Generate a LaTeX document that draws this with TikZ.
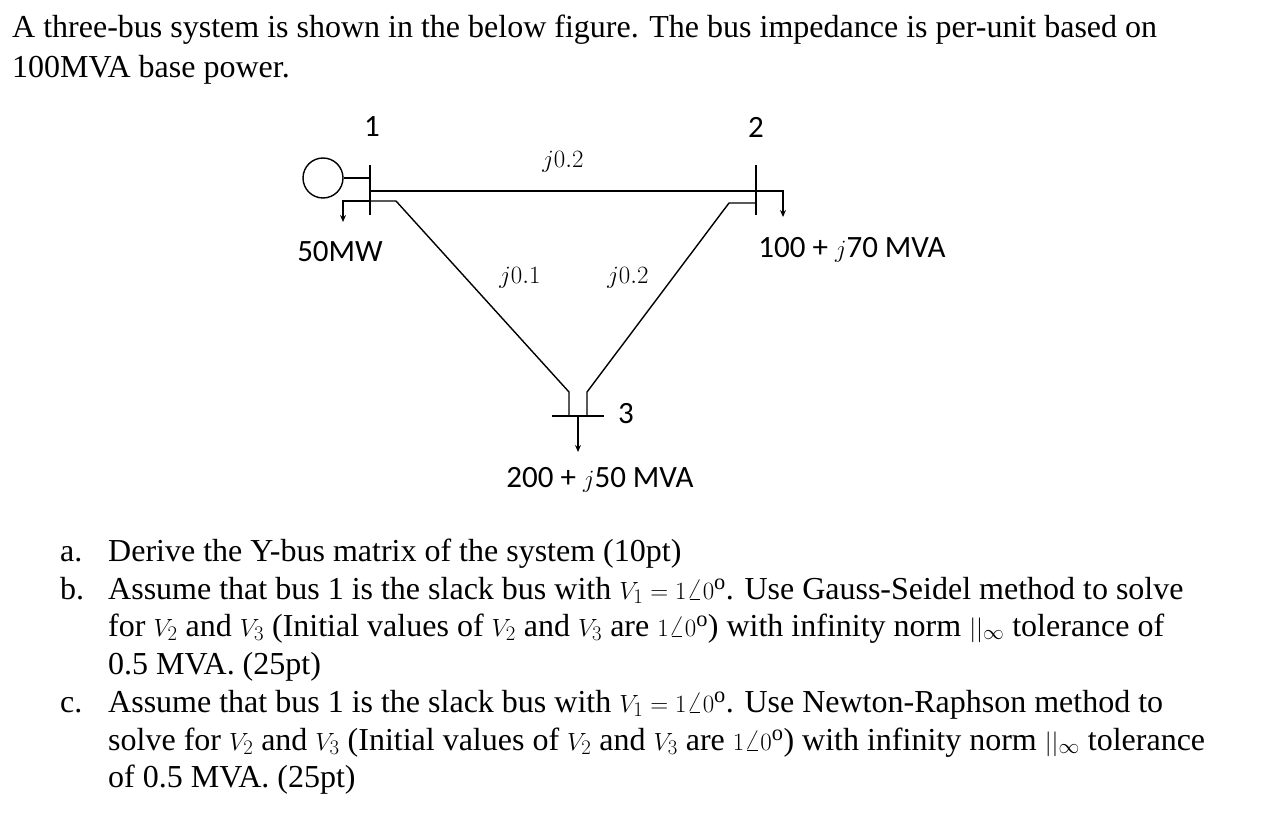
\documentclass[tikz,border=0pt]{standalone}
\usepackage{fontspec}
\setmainfont{Liberation Serif}
\newfontfamily\calfont{Carlito}
\usetikzlibrary{arrows.meta}
\begin{document}
\begin{tikzpicture}[x=1pt,y=-1pt,
  ln/.style={line width=1.4pt},
  ar/.style={line width=1.4pt,-{Stealth[length=7pt,width=6pt]}},
  tx/.style={anchor=base west,inner sep=0,font=\fontsize{32}{36}\selectfont},
  lb/.style={inner sep=0,font=\calfont\fontsize{31}{34}\selectfont}]
\useasboundingbox (0,0) rectangle (1280,818);
\node[tx] (t1) at (12,38) {A three-bus system is shown in the below figure. The bus impedance is per-unit based on};
\node[tx] (t2) at (12,78) {100MVA base power.};
% diagram
\node[draw,circle,minimum size=40pt,inner sep=0,ln] (g) at (323,178) {};
\coordinate (b1t) at (370,165); \coordinate (b1b) at (370,215);
\coordinate (b2t) at (756,165); \coordinate (b2b) at (756,215);
\draw[ln] (b1t) -- (b1b);
\draw[ln] (b2t) -- (b2b);
\draw[ln] (g.east) -- (370,178);
\draw[ln] (370,191) -- (756,191);
\draw[ar] (370,201) -- (343,201) -- (343,222);
\draw[ar] (756,191) -- (783,191) -- (783,217);
\draw[ln] (370,201) -- (396,201) -- (569,392) -- (569,416);
\draw[ln] (756,203) -- (729,203) -- (587,392) -- (587,416);
\draw[ln] (552,416) -- (604,416);
\draw[ar] (578,416) -- (578,452);
\node[lb] (n1) at (372,127) {1};
\node[lb] (n2) at (756,127) {2};
\node[lb] (n3) at (626,414) {3};
\node[lb] (z12) at (563,162) {$j0.2$};
\node[lb] (z13) at (520,278) {$j0.1$};
\node[lb] (z23) at (628,278) {$j0.2$};
\node[lb] (l1) at (340,252) {50MW};
\node[lb] (l2) at (852,250) {100 + $j$70 MVA};
\node[lb] (l3) at (600,480) {200 + $j$50 MVA};
% questions
\node[tx] (a) at (60,561) {a.};
\node[tx] (at) at (108,561) {Derive the Y-bus matrix of the system (10pt)};
\node[tx] (b) at (60,599) {b.};
\node[tx] (bt1) at (108,599) {Assume that bus 1 is the slack bus with $V_1=1\angle0^{\mathrm{o}}$. Use Gauss-Seidel method to solve};
\node[tx] (bt2) at (108,636) {for $V_2$ and $V_3$ (Initial values of $V_2$ and $V_3$ are $1\angle0^{\mathrm{o}}$) with infinity norm $||_\infty$ tolerance of};
\node[tx] (bt3) at (108,674) {0.5 MVA. (25pt)};
\node[tx] (c) at (60,712) {c.};
\node[tx] (ct1) at (108,712) {Assume that bus 1 is the slack bus with $V_1=1\angle0^{\mathrm{o}}$. Use Newton-Raphson method to};
\node[tx] (ct2) at (108,750) {solve for $V_2$ and $V_3$ (Initial values of $V_2$ and $V_3$ are $1\angle0^{\mathrm{o}}$) with infinity norm $||_\infty$ tolerance};
\node[tx] (ct3) at (108,787) {of 0.5 MVA. (25pt)};
\end{tikzpicture}
\end{document}
